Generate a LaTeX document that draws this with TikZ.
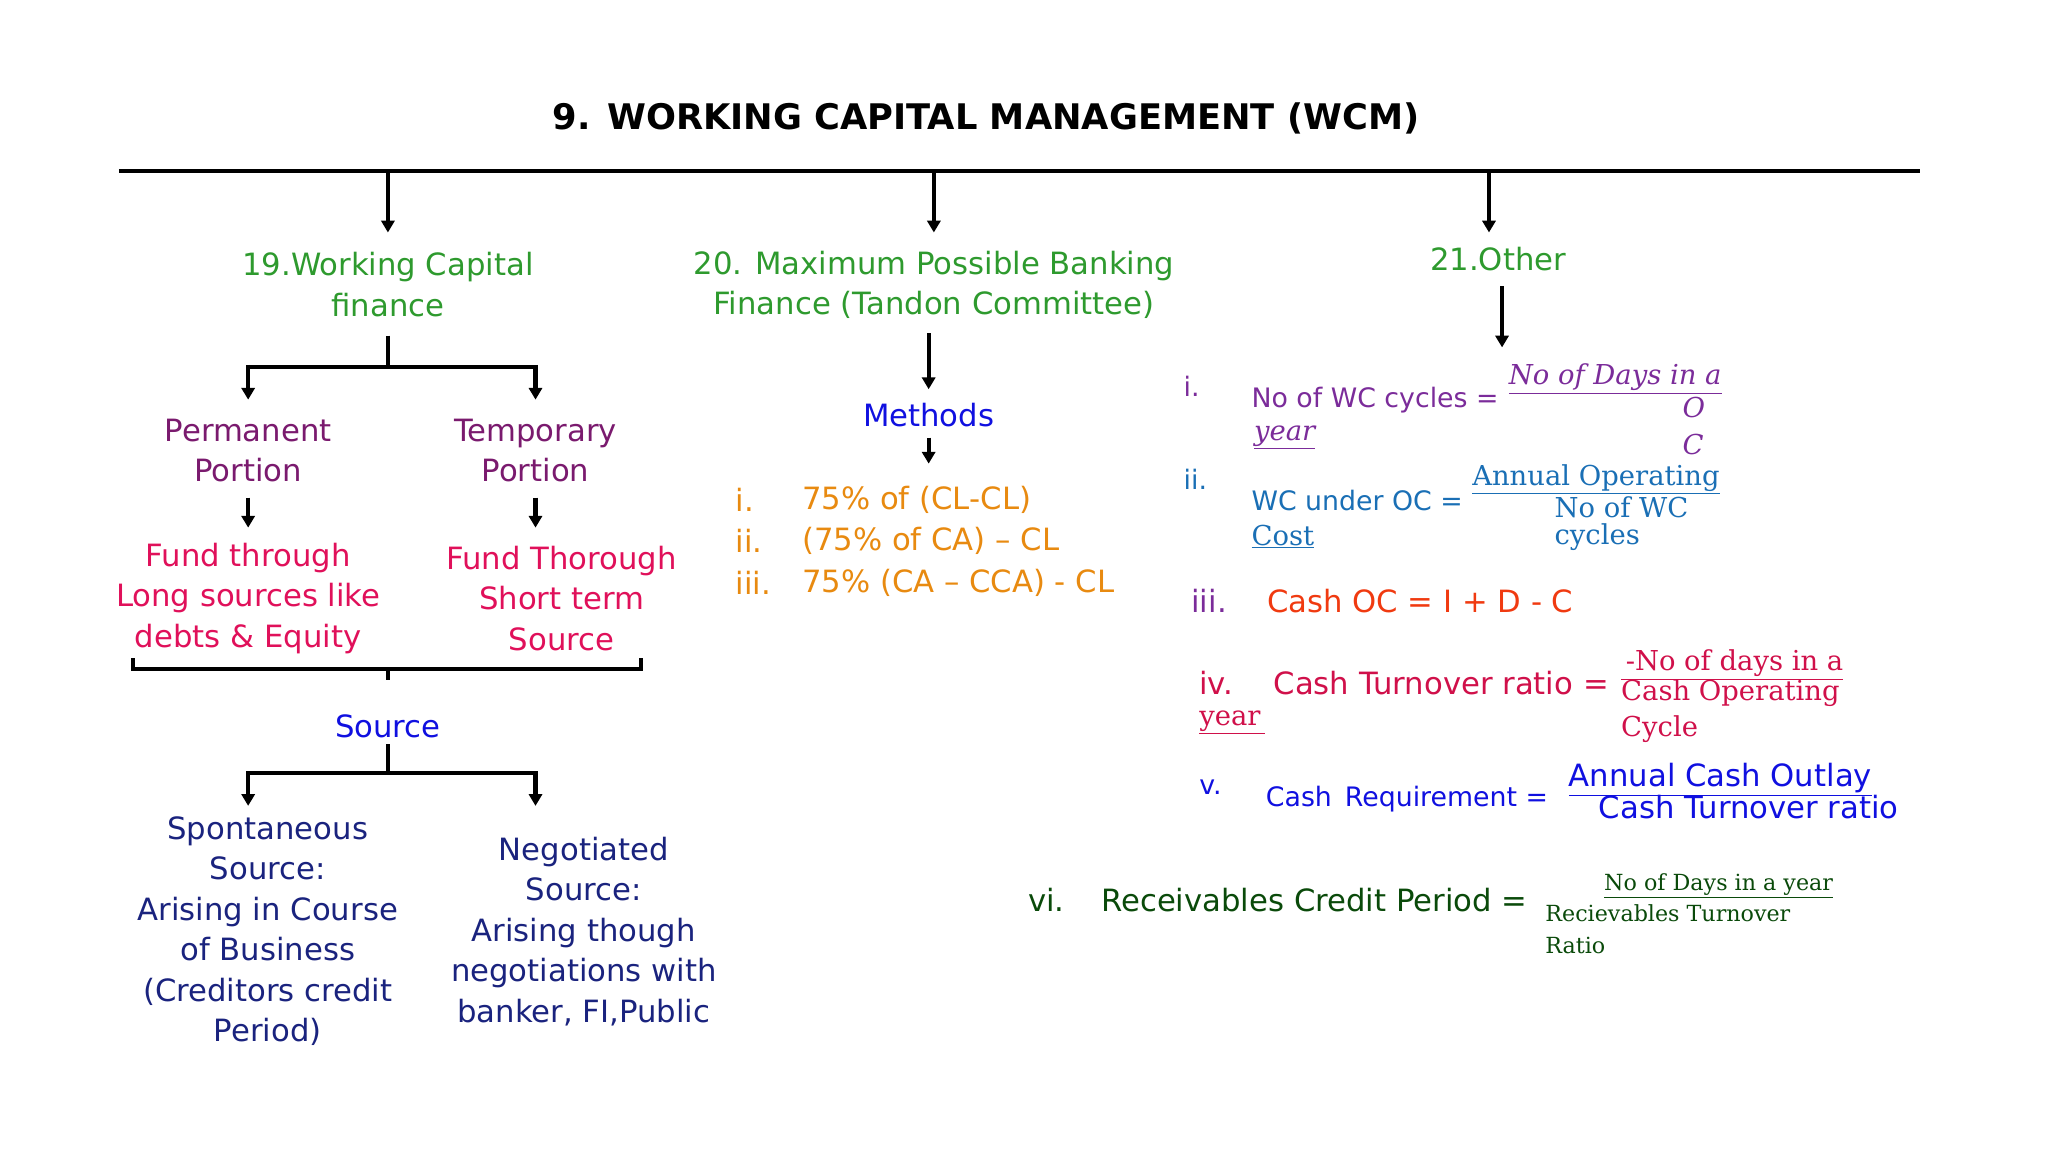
\documentclass[tikz,border=0pt]{standalone}
\usepackage{fontspec}
\setmainfont{DejaVu Sans}
\newfontfamily\serifi{DejaVu Serif}
\usetikzlibrary{arrows.meta}
\definecolor{cgreen}{HTML}{2E9A2E}
\definecolor{cpurple}{HTML}{7A1A6E}
\definecolor{cviolet}{HTML}{7B2C9A}
\definecolor{cpink}{HTML}{E0105A}
\definecolor{cblue}{HTML}{1010E0}
\definecolor{cnavy}{HTML}{1A237E}
\definecolor{corange}{HTML}{E88A10}
\definecolor{cteal}{HTML}{1A6FB5}
\definecolor{cred}{HTML}{F03A10}
\definecolor{ccrim}{HTML}{D0104A}
\definecolor{cdgreen}{HTML}{0A4A0A}
\tikzset{
 ln/.style={line width=3.2pt},
 ar/.style={line width=3.2pt,-{Triangle[length=9pt,width=10pt]}},
 t/.style={align=center,inner sep=0pt,font=\fontsize{23.5}{31}\selectfont},
 tl/.style={anchor=west,inner sep=0pt,font=\fontsize{20.5}{22}\selectfont},
 tb/.style={anchor=west,inner sep=0pt,font=\fontsize{23.5}{24}\selectfont},
 fr/.style={anchor=west,inner sep=0pt,font=\fontsize{21}{22}\selectfont\serifi},
}
\newcommand{\ul}[1]{\underline{#1}}
\begin{document}
\begin{tikzpicture}[x=1pt,y=-1pt]
\useasboundingbox (0,0) rectangle (1568,882);
\node[t,font=\fontsize{27}{30}\selectfont\bfseries] (title) at (755,91) {9. WORKING CAPITAL MANAGEMENT (WCM)};
\coordinate (hl) at (91,131); \coordinate (hr) at (1470,131);
\draw[ln] (hl) -- (hr);
\coordinate (a1) at (297,131); \coordinate (a2) at (715,131); \coordinate (a3) at (1140,131);
\node[t,text=cgreen] (n19) at (297,218) {19.Working Capital\\finance};
\node[t,text=cgreen] (n20) at (715,218) {20. Maximum Possible Banking\\Finance (Tandon Committee)};
\node[t,text=cgreen] (n21) at (1147,198) {21.Other};
\draw[ar] (a1) -- (297,178);
\draw[ar] (a2) -- (715,178);
\draw[ar] (a3) -- (1140,178);
% left branch
\node[t,text=cpurple] (perm) at (190,345) {Permanent\\Portion};
\node[t,text=cpurple] (temp) at (410,345) {Temporary\\Portion};
\draw[ln] (297,257) -- (297,281);
\draw[ln] (190,281) -- (410,281);
\draw[ar] (190,279.4) -- (190,306);
\draw[ar] (410,279.4) -- (410,306);
\draw[ar] (190,381) -- (190,404);
\draw[ar] (410,381) -- (410,404);
\node[t,text=cpink] (f1) at (190,458) {Fund through\\Long sources like\\debts \& Equity};
\node[t,text=cpink] (f2) at (430,458) {Fund Thorough\\Short term\\Source};
\draw[ln] (102,504) -- (102,512) -- (491,512) -- (491,504);
\draw[ln] (297,512) -- (297,521);
\node[t,text=cblue] (src) at (297,556) {Source};
\draw[ln] (297,570) -- (297,592);
\draw[ln] (190,592) -- (410,592);
\draw[ar] (190,590.4) -- (190,617);
\draw[ar] (410,590.4) -- (410,617);
\node[t,text=cnavy] (sp) at (205,713) {Spontaneous\\Source:\\Arising in Course\\of Business\\(Creditors credit\\Period)};
\node[t,text=cnavy] (ng) at (447,713) {Negotiated\\Source:\\Arising though\\negotiations with\\banker, FI,Public};
% middle
\draw[ar] (711,255) -- (711,298);
\node[t,text=cblue] (meth) at (711,318) {Methods};
\draw[ar] (711,335) -- (711,355);
\begin{scope}[every node/.style={tb,text=corange}]
\node (m1a) at (563,383) {i.}; \node (m1) at (614,383) {75\% of (CL-CL)};
\node (m2a) at (563,414) {ii.}; \node (m2) at (614,414) {(75\% of CA) – CL};
\node (m3a) at (563,446) {iii.}; \node (m3) at (614,446) {75\% (CA – CCA) - CL};
\end{scope}
% right
\draw[ar] (1150,219) -- (1150,266);
\node[tl,text=cviolet] (r1) at (906,296) {i.};
\node[tl,text=cviolet] (r1t) at (958,306) {No of WC cycles =};
\node[fr,text=cviolet] (r1n) at (1155,290) {\itshape\ul{No of Days in a}};
\node[fr,text=cviolet] at (1288,312) {\itshape O};
\node[fr,text=cviolet] at (1288,340) {\itshape C};
\node[fr,text=cviolet] at (960,335) {\itshape\ul{year}};
\node[tl,text=cteal] (r2) at (906,367) {ii.};
\node[tl,text=cteal] (r2t) at (958,383) {WC under OC =};
\node[fr,text=cteal] at (1127,367) {\ul{Annual Operating}};
\node[fr,text=cteal] at (1190,388) {No of WC};
\node[fr,text=cteal] at (1190,411) {cycles};
\node[fr,text=cteal] at (958,411) {\ul{Cost}};
\node[tb,text=cviolet] (r3) at (912,460) {iii.};
\node[tb,text=cred] (r3t) at (970,460) {Cash OC = I + D - C};
\node[tb,text=ccrim] (r4) at (918,523) {iv.};
\node[tb,text=ccrim] (r4t) at (975,523) {Cash Turnover ratio =};
\node[fr,text=ccrim] at (1241,509) {\ul{\,-No of days in a}};
\node[fr,text=ccrim] at (1241,531) {Cash Operating};
\node[fr,text=ccrim] at (1241,558) {Cycle};
\node[fr,text=ccrim] at (918,553) {\ul{year\,}};
\node[tl,text=cblue] (r5) at (918,603) {v.};
\node[tl,text=cblue] (r5t) at (969,612) {Cash\, Requirement =};
\node[tb,text=cblue] at (1201,597) {\ul{Annual Cash Outlay}};
\node[tb,text=cblue] at (1224,618) {Cash Turnover ratio};
\node[tb,text=cdgreen] (r6) at (787,689) {vi.};
\node[tb,text=cdgreen] (r6t) at (843,689) {Receivables Credit Period =};
\node[fr,text=cdgreen,font=\fontsize{17}{20}\selectfont\serifi] at (1228,678) {\ul{No of Days in a year}};
\node[fr,text=cdgreen,font=\fontsize{17}{20}\selectfont\serifi] at (1183,699) {Recievables Turnover};
\node[fr,text=cdgreen,font=\fontsize{17}{20}\selectfont\serifi] at (1183,724) {Ratio};
\end{tikzpicture}
\end{document}
